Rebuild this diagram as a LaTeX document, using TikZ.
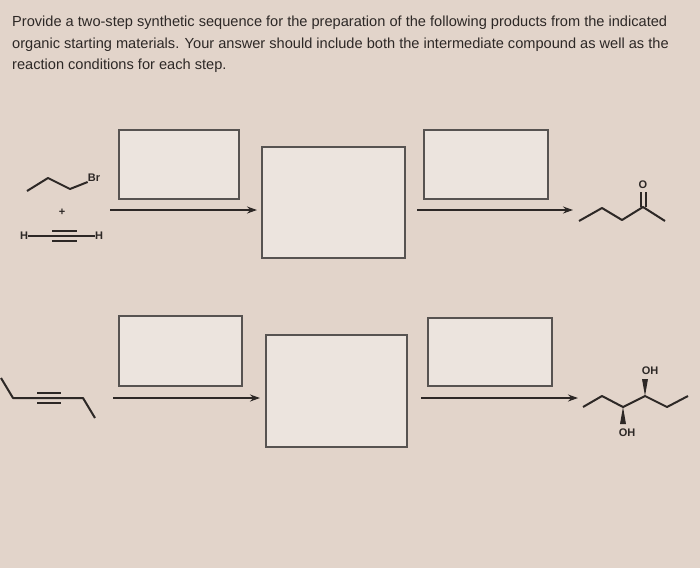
\documentclass[tikz,border=0pt]{standalone}
\usepackage{fontspec}
\setmainfont{Liberation Sans}
\usetikzlibrary{arrows.meta}
\definecolor{paper}{RGB}{226,212,202}
\definecolor{boxfill}{RGB}{236,228,222}
\definecolor{ink}{RGB}{45,40,38}
\begin{document}
\begin{tikzpicture}[x=1pt,y=-1pt,
  bond/.style={ink,line width=2pt,line join=round},
  answerbox/.style={draw=ink!80,line width=1.6pt,fill=boxfill,inner sep=0pt},
  rxn/.style={ink,line width=2pt,-{Stealth[length=10pt,width=7pt]}},
  lbl/.style={text=ink,font=\bfseries\fontsize{11}{12}\selectfont,inner sep=0pt}]
\fill[paper] (0,0) rectangle (700,568);
\useasboundingbox (0,0) rectangle (700,568);
\node[anchor=north west,align=left,text=ink,font=\fontsize{14.6}{21.5}\selectfont,inner sep=0pt] (q) at (12,16)
 {Provide a two-step synthetic sequence for the preparation of the following products from the indicated\\
  organic starting materials. Your answer should include both the intermediate compound as well as the\\
  reaction conditions for each step.};
% boxes
\node[answerbox,minimum width=120,minimum height=69] (b1) at (179,164.5) {};
\node[answerbox,minimum width=143,minimum height=111] (b2) at (333.5,202.5) {};
\node[answerbox,minimum width=124,minimum height=69] (b3) at (486,164.5) {};
\node[answerbox,minimum width=123,minimum height=70] (b4) at (180.5,351) {};
\node[answerbox,minimum width=141,minimum height=112] (b5) at (336.5,391) {};
\node[answerbox,minimum width=124,minimum height=68] (b6) at (490,352) {};
% arrows
\coordinate (a1s) at (110,210); \coordinate (a1e) at (257,210);
\coordinate (a2s) at (417,210); \coordinate (a2e) at (573,210);
\coordinate (a3s) at (113,398); \coordinate (a3e) at (260,398);
\coordinate (a4s) at (421,398); \coordinate (a4e) at (578,398);
\draw[rxn] (a1s) -- (a1e);
\draw[rxn] (a2s) -- (a2e);
\draw[rxn] (a3s) -- (a3e);
\draw[rxn] (a4s) -- (a4e);
% propyl bromide
\node[lbl] (br) at (94,178) {Br};
\draw[bond] (27,191) -- (48,178) -- (70,189) -- (br.south west);
\node[lbl] (plus) at (62,212) {+};
% acetylene
\node[lbl] (h1) at (24,236) {H};
\node[lbl] (h2) at (99,236) {H};
\draw[bond] (h1.east) -- (h2.west);
\draw[bond] (52,231) -- (77,231) (52,241) -- (77,241);
% 3-hexyne
\draw[bond] (1,378) -- (13,398) -- (83,398) -- (95,418);
\draw[bond] (37,393) -- (61,393) (37,403) -- (61,403);
% 2-pentanone
\node[lbl] (o) at (643,185) {O};
\draw[bond] (579,221) -- (602,208) -- (622,220) -- (643,207) -- (665,221);
\draw[bond] (641,207) -- (641,192) (645.5,207) -- (645.5,192);
% diol
\node[lbl] (oh1) at (650,371) {OH};
\node[lbl] (oh2) at (627,433) {OH};
\draw[bond] (583,407) -- (602,396) -- (623,407) -- (645,396) -- (667,407) -- (688,396);
\fill[ink] (645,396) -- (642,379) -- (648,379) -- cycle;
\fill[ink] (623,407) -- (620,424) -- (626,424) -- cycle;
\end{tikzpicture}
\end{document}
